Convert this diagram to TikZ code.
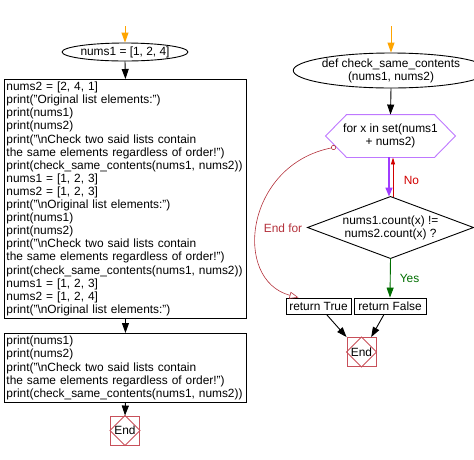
\documentclass[tikz,border=0pt]{standalone}
\usepackage{fontspec}
\setmainfont{Liberation Sans}
\usetikzlibrary{arrows.meta,calc,shapes.geometric}
\definecolor{endred}{RGB}{200,80,90}
\definecolor{forred}{RGB}{180,50,60}
\definecolor{nored}{RGB}{210,0,0}
\definecolor{yesgreen}{RGB}{0,110,0}
\definecolor{hexpurple}{RGB}{190,120,255}
\definecolor{arrpurple}{RGB}{160,60,255}
\definecolor{startorange}{RGB}{255,165,0}
\begin{document}
\begin{tikzpicture}[x=1pt,y=-1pt,line width=0.9pt,
  every node/.style={font=\fontsize{11.9}{13.1}\selectfont},
  tip/.style={-{Triangle[width=7pt,length=10pt]}},
  codebox/.style={draw,rectangle,anchor=north west,text width=238pt,align=left,inner xsep=2pt,inner ysep=1pt,minimum width=242pt},
  retbox/.style={draw,rectangle,inner sep=0pt,minimum height=16pt},
  endnode/.style={draw=endred,rectangle,minimum width=29pt,minimum height=29pt,inner sep=0pt},
  plainbox/.style={rectangle,inner sep=0pt}]
\useasboundingbox (0,0) rectangle (474,459);

% left column
\coordinate (ls) at (125,26);
\node[draw,ellipse,minimum width=103pt,minimum height=18pt,inner sep=0pt] (n1) at (125,52) {nums1 = [1, 2, 4]};
\node[codebox,minimum height=239pt] (b1) at (4,79) {nums2 = [2, 4, 1]\\
print("Original list elements:")\\
print(nums1)\\
print(nums2)\\
print("\textbackslash nCheck two said lists contain\\
the same elements regardless of order!")\\
print(check\_same\_contents(nums1, nums2))\\
nums1 = [1, 2, 3]\\
nums2 = [1, 2, 3]\\
print("\textbackslash nOriginal list elements:")\\
print(nums1)\\
print(nums2)\\
print("\textbackslash nCheck two said lists contain\\
the same elements regardless of order!")\\
print(check\_same\_contents(nums1, nums2))\\
nums1 = [1, 2, 3]\\
nums2 = [1, 2, 4]\\
print("\textbackslash nOriginal list elements:")};
\node[codebox,minimum height=69pt] (b2) at (4,333) {print(nums1)\\
print(nums2)\\
print("\textbackslash nCheck two said lists contain\\
the same elements regardless of order!")\\
print(check\_same\_contents(nums1, nums2))};
\node[endnode] (el) at (125,430.5) {End};
\draw[endred] (el.north) -- (el.east) -- (el.south) -- (el.west) -- cycle;

\draw[tip,startorange] (ls) -- (n1.north);
\draw[tip] (n1.south) -- (b1.north);
\draw[tip] (b1.south) -- (b2.north);
\draw[tip] (b2.south) -- (el.north);

% right column
\coordinate (rs) at (391,26);
\node[draw,ellipse,minimum width=156pt,minimum height=35pt,inner sep=0pt,align=center] (e2) at (391,70.5) {def check\_same\_contents\\(nums1, nums2)};
\node[plainbox,minimum width=129pt,minimum height=42pt,align=center] (h) at (390.5,136) {for x in set(nums1\\+ nums2)};
\draw[hexpurple] (h.west) -- ($(h.north west)+(21,0)$) -- ($(h.north east)+(-21,0)$) -- (h.east) -- ($(h.south east)+(-21,0)$) -- ($(h.south west)+(21,0)$) -- cycle;
\node[plainbox,minimum width=165pt,minimum height=61pt,align=center] (d) at (390.5,227.5) {nums1.count(x) !=\\nums2.count(x) ?};
\draw (d.north) -- (d.east) -- (d.south) -- (d.west) -- cycle;
\node[retbox,minimum width=65pt] (rt) at (318.5,306) {return True};
\node[retbox,minimum width=72pt] (rf) at (390,306) {return False};
\node[endnode] (er) at (361.5,352) {End};
\draw[endred] (er.north) -- (er.east) -- (er.south) -- (er.west) -- cycle;

\draw[tip,startorange] (rs) -- (e2.north);
\draw[tip] (e2.south) -- (h.north);
\draw[arrpurple,line width=1.5pt,-{Triangle[width=7pt,length=9pt]}] ([xshift=-1.5pt]h.south) -- ([xshift=-1.5pt]d.north);
\draw[nored,-{Triangle[width=4pt,length=7pt]}] ([xshift=2.5pt]d.north) -- ([xshift=2.5pt]h.south);
\node[text=nored,anchor=west] (nol) at (400,180) {No};
\draw[yesgreen,tip] (d.south) -- (rf.north);
\node[text=yesgreen,anchor=west] (yesl) at (396,278) {Yes};

\coordinate (efs) at (336,147);
\draw[forred,line width=0.6pt,{Circle[open,length=5pt,width=5pt]}-{Triangle[open,width=7pt,length=9pt]}] (efs) .. controls (245,165) and (232,280) .. ([xshift=-20pt]rt.north);
\node[text=forred,anchor=east] (efl) at (306,228) {End for};

\draw[tip] ([xshift=8pt]rt.south) -- (er.north west);
\draw[tip] ([xshift=-6pt]rf.south) -- ($(er.north)!0.65!(er.north east)$);
\end{tikzpicture}
\end{document}
